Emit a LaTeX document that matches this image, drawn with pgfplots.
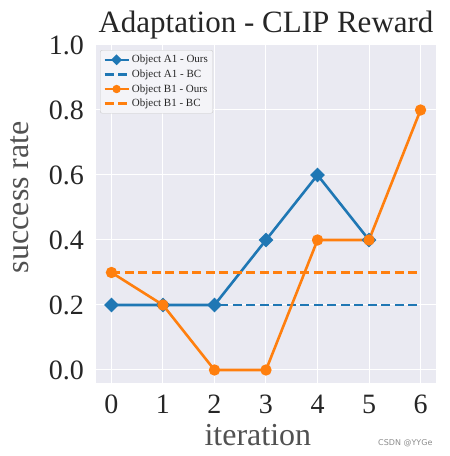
\documentclass[border=0pt]{standalone}
\usepackage{pgfplots}
\pgfplotsset{compat=1.18}
\usetikzlibrary{calc}
\usepackage{fontspec}
\setmainfont{Liberation Serif}
\setsansfont{DejaVu Sans}

\definecolor{sbblue}{HTML}{1F77B4}
\definecolor{sborange}{HTML}{FF7F0E}
\definecolor{sbback}{HTML}{EAEAF2}
\definecolor{txt}{HTML}{262626}

\begin{document}
\begin{tikzpicture}
\begin{axis}[
    name=ax,
    scale only axis,
    width=340bp, height=338bp,
    xmin=-0.3, xmax=6.3,
    ymin=-0.04, ymax=1.0,
    xtick={0,1,2,3,4,5,6},
    ytick={0,0.2,0.4,0.6,0.8,1.0},
    yticklabel style={/pgf/number format/fixed,/pgf/number format/precision=1,/pgf/number format/fixed zerofill},
    /pgf/number format/assume math mode=true,
    tick label style={font=\fontsize{28bp}{30bp}\selectfont, text=txt, inner sep=0pt},
    xticklabel style={anchor=north, yshift=-12bp},
    yticklabel style={anchor=east, xshift=-12bp},
    major tick length=0pt,
    axis background/.style={fill=sbback},
    axis line style={draw=none},
    grid=major,
    major grid style={white, line width=1bp},
    title={Adaptation - CLIP Reward},
    title style={font=\fontsize{31bp}{33bp}\selectfont, text=txt, at={(axis description cs:0.5,1)}, anchor=base, yshift=7bp},
    xlabel={iteration},
    ylabel={success rate},
    label style={font=\fontsize{32bp}{34bp}\selectfont, text=txt!80, inner sep=0pt},
    xlabel style={at={(axis description cs:0.476,0)}, anchor=base, yshift=-62bp},
    ylabel style={at={(axis description cs:-0.2235,0.55)}, anchor=center, rotate=0},
    legend style={at={(0.012,0.985)}, anchor=north west, fill=sbback!50!white, draw=black!20,
        rounded corners=2bp, font=\fontsize{11bp}{12bp}\selectfont, text=txt,
        row sep=1.5bp, inner sep=3bp},
    legend cell align=left,
    legend image code/.code={\draw[mark repeat=2,mark phase=2,#1,every mark/.append style={scale=0.65}] plot coordinates {(0bp,0bp)(12bp,0bp)(24bp,0bp)};},
    every axis plot/.append style={line width=2.6bp},
]
\addplot[sbblue, mark=square*, mark size=3.9bp, mark options={rotate=45, solid}]
    coordinates {(0,0.2)(1,0.2)(2,0.2)(3,0.4)(4,0.6)(5,0.4)};
\addlegendentry{Object A1 - Ours}
\addplot[sbblue, dash pattern=on 9bp off 4.5bp]
    coordinates {(0,0.2)(1,0.2)(2,0.2)(3,0.2)(4,0.2)(5,0.2)(6,0.2)};
\addlegendentry{Object A1 - BC}
\addplot[sborange, mark=*, mark size=4.3bp, mark options={solid}]
    coordinates {(0,0.3)(1,0.2)(2,0.0)(3,0.0)(4,0.4)(5,0.4)(6,0.8)};
\addlegendentry{Object B1 - Ours}
\addplot[sborange, dash pattern=on 9bp off 4.5bp]
    coordinates {(0,0.3)(1,0.3)(2,0.3)(3,0.3)(4,0.3)(5,0.3)(6,0.3)};
\addlegendentry{Object B1 - BC}
\end{axis}
\node[anchor=south east, font=\sffamily\fontsize{8bp}{9bp}\selectfont, text=black!45]
    at ($(ax.south east)+(0bp,-67bp)$) {CSDN @YYGe};
\pgfresetboundingbox
\path[use as bounding box] ($(ax.south west)+(-96bp,-73bp)$) rectangle ($(ax.north east)+(14bp,45bp)$);
\end{tikzpicture}
\end{document}
